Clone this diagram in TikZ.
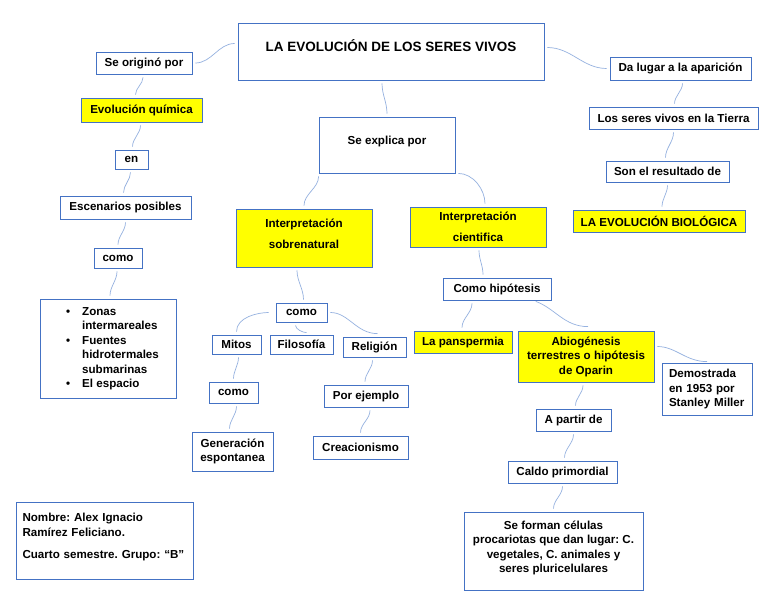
\documentclass[tikz,border=0pt]{standalone}
\usepackage{fontspec}
\setmainfont{Liberation Sans}
\usepackage{tikz}
\definecolor{boxblue}{RGB}{68,114,196}
\definecolor{linkblue}{RGB}{150,178,224}
\definecolor{hilite}{RGB}{255,255,0}

\begin{document}
\frenchspacing
\begin{tikzpicture}[x=1pt, y=1pt,
  every node/.style={font=\bfseries\fontsize{11.6}{14.5}\selectfont, text=black},
  box/.style={draw=boxblue, line width=0.8pt, inner sep=1pt, align=center},
  hbox/.style={box, fill=hilite},
  dims/.style 2 args={minimum width=#1pt, minimum height=#2pt},
  link/.style={draw=linkblue, line width=0.7pt, shorten <=3pt, shorten >=3pt}]
  \useasboundingbox (0,0) rectangle (768,-594);
  \fill[white] (0,0) rectangle (768,-594);
  \node[box, dims={306}{57}, font=\bfseries\fontsize{13.5}{16}\selectfont, text height=10pt, text depth=9pt] (titulo) at (391,-51.5) {LA EVOLUCIÓN DE LOS SERES VIVOS};
  \node[box, dims={96}{22}] (origino) at (144,-63) {Se originó por};
  \node[hbox, dims={121}{24}] (quimica) at (141.5,-110) {Evolución química};
  \node[box, dims={33}{19}] (en) at (131.5,-159.5) {en};
  \node[box, dims={131}{23}] (escenarios) at (125.5,-207.5) {Escenarios posibles};
  \node[box, dims={48}{20}] (como1) at (118,-258) {como};
  \node[box, dims={136}{99}] (lista) at (108,-348.5) {\begin{tabular}{@{\hspace{9pt}}l@{\hspace{12pt}}l@{}}
    \textbullet & Zonas\\ & intermareales\\
    \textbullet & Fuentes\\ & hidrotermales\\ & submarinas\\
    \textbullet & El espacio
  \end{tabular}};
  \node[box, dims={136}{56}, text height=8pt, text depth=10pt] (explica) at (387,-145) {Se explica por};
  \node[hbox, dims={136}{58}, font=\bfseries\fontsize{11.6}{21}\selectfont, text depth=9pt] (sobrenatural) at (304,-238) {Interpretación\\sobrenatural};
  \node[hbox, dims={136}{40}, font=\bfseries\fontsize{11.6}{21}\selectfont] (cientifica) at (478,-227) {Interpretación\\cientifica};
  \node[box, dims={141}{23}] (dalugar) at (680.5,-68.5) {Da lugar a la aparición};
  \node[box, dims={169}{22}] (tierra) at (673.5,-118) {Los seres vivos en la Tierra};
  \node[box, dims={123}{21}] (resultado) at (667.5,-171.5) {Son el resultado de};
  \node[hbox, dims={172}{22}] (biologica) at (659,-221) {LA EVOLUCIÓN BIOLÓGICA};
  \node[box, dims={51}{19}] (como2) at (301.5,-312.5) {como};
  \node[box, dims={49}{19}] (mitos) at (236.5,-344.5) {Mitos};
  \node[box, dims={63}{19}] (filosofia) at (301.5,-344.5) {Filosofía};
  \node[box, dims={63}{20}] (religion) at (374.5,-347) {Religión};
  \node[box, dims={49}{21}] (como3) at (233.5,-392.5) {como};
  \node[box, dims={81}{39}] (generacion) at (232.5,-451.5) {Generación\\espontanea};
  \node[box, dims={84}{22}] (ejemplo) at (366,-396) {Por ejemplo};
  \node[box, dims={95}{23}] (creacionismo) at (360.5,-447.5) {Creacionismo};
  \node[box, dims={108}{22}] (hipotesis) at (497,-289) {Como hipótesis};
  \node[hbox, dims={98}{22}] (panspermia) at (463,-342) {La panspermia};
  \node[hbox, dims={136}{51}] (oparin) at (586,-356.5) {Abiogénesis\\terrestres o hipótesis\\de Oparin};
  \node[box, dims={90}{52}, text width=76pt, align=left] (miller) at (707,-389) {Demostrada\\en 1953 por\\Stanley Miller};
  \node[box, dims={75}{22}] (partir) at (573.5,-420) {A partir de};
  \node[box, dims={109}{22}] (caldo) at (562.5,-472) {Caldo primordial};
  \node[box, dims={179}{78}, text depth=9pt] (celulas) at (553.5,-551) {Se forman células\\procariotas que dan lugar: C.\\vegetales, C. animales y\\seres pluricelulares};
  \node[box, dims={177}{77}, text width=164pt, align=left, text height=9pt, text depth=47pt] (nombre) at (104.5,-540.5) {Nombre: Alex Ignacio\\Ramírez Feliciano.\\[8pt]Cuarto semestre. Grupo: “B”};
  \draw[link] ([yshift=8pt]titulo.west) to[out=180, in=0] (origino.east);
  \draw[link] ([yshift=4pt]titulo.east) to[out=0, in=180] (dalugar.west);
  \draw[link] ([xshift=-9pt]titulo.south) to[out=-90, in=90] (explica.north);
  \draw[link] ([xshift=-1pt]origino.south) to[out=-90, in=90] ([xshift=-6pt]quimica.north);
  \draw[link] ([xshift=-1pt]quimica.south) to[out=-90, in=90] ([xshift=1pt]en.north);
  \draw[link] ([xshift=-1pt]en.south) to[out=-90, in=90] ([xshift=-2pt]escenarios.north);
  \draw[link] (escenarios.south) to[out=-90, in=90] (como1.north);
  \draw[link] ([xshift=-1pt]como1.south) to[out=-90, in=90] ([xshift=2pt]lista.north);
  \draw[link] (explica.south west) to[out=-90, in=90] (sobrenatural.north);
  \draw[link] (explica.south east) to[out=0, in=90] ([xshift=7pt]cientifica.north);
  \draw[link] ([xshift=2pt]dalugar.south) to[out=-90, in=90] ([xshift=1pt]tierra.north);
  \draw[link] (tierra.south) to[out=-90, in=90] ([xshift=-2pt]resultado.north);
  \draw[link] (resultado.south) to[out=-90, in=90] ([xshift=3pt]biologica.north);
  \draw[link] ([xshift=-7pt]sobrenatural.south) to[out=-90, in=90] ([xshift=2pt]como2.north);
  \draw[link, shorten <=7pt] (como2.west) to[out=180, in=90] (mitos.north);
  \draw[link] ([xshift=-6pt]como2.south) to[out=-90, in=180] ([xshift=8pt, yshift=2pt]filosofia.north);
  \draw[link, shorten >=0pt] (como2.east) to[out=0, in=180] ([xshift=3pt, yshift=3pt]religion.north);
  \draw[link] ([xshift=2pt]mitos.south) to[out=-90, in=90] (como3.north);
  \draw[link] ([xshift=3pt]como3.south) to[out=-90, in=90] ([xshift=-3pt]generacion.north);
  \draw[link] ([xshift=-2pt]religion.south) to[out=-90, in=90] ([xshift=-1pt]ejemplo.north);
  \draw[link] ([xshift=4pt]ejemplo.south) to[out=-90, in=90] (creacionismo.north);
  \draw[link] ([xshift=1pt]cientifica.south) to[out=-90, in=90] ([xshift=-14pt]hipotesis.north);
  \draw[link] ([xshift=-25pt]hipotesis.south) to[out=-90, in=90] ([xshift=-1pt]panspermia.north);
  \draw[link, shorten >=0pt] ([xshift=36pt]hipotesis.south) to[out=-20, in=180] ([xshift=2pt, yshift=4pt]oparin.north);
  \draw[link, shorten >=0pt] ([yshift=10pt]oparin.east) to[out=0, in=180] ([yshift=1pt]miller.north);
  \draw[link] ([xshift=-3pt]oparin.south) to[out=-90, in=90] ([xshift=2pt]partir.north);
  \draw[link] (partir.south) to[out=-90, in=90] ([xshift=2pt]caldo.north);
  \draw[link] (caldo.south) to[out=-90, in=90] (celulas.north);
\end{tikzpicture}
\end{document}
